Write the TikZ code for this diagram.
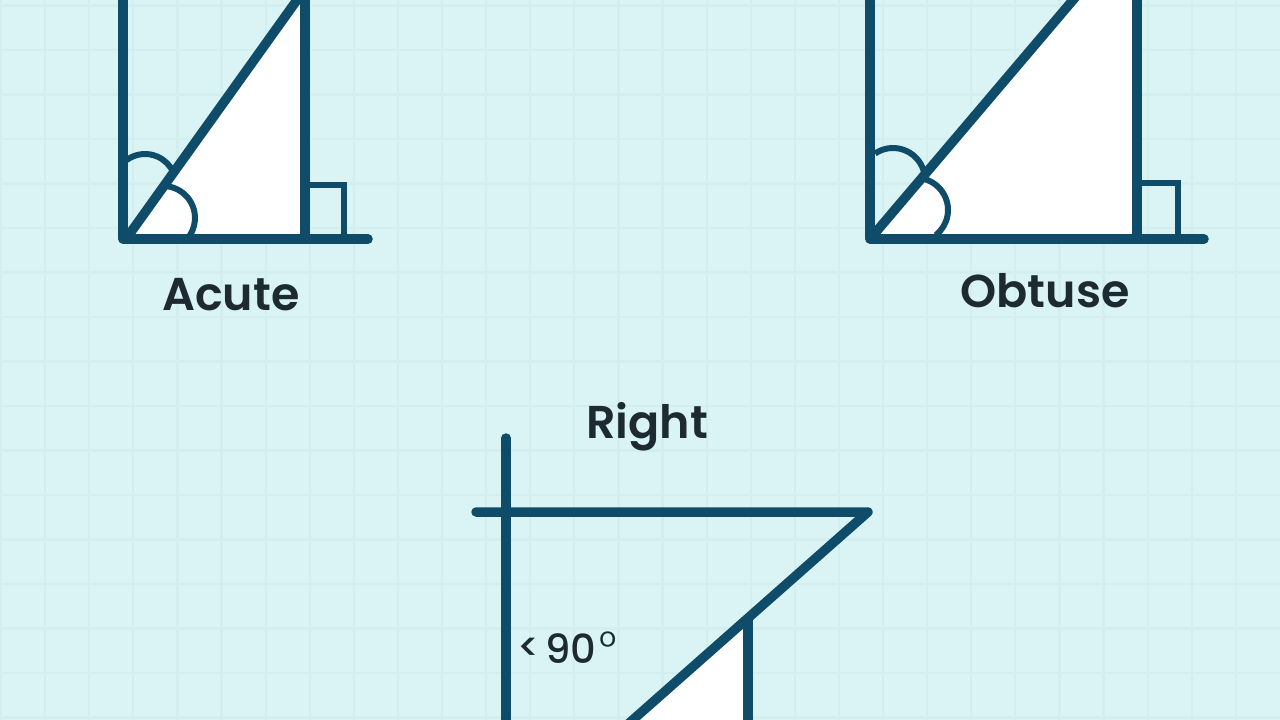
\documentclass[tikz,border=0pt]{standalone}
\usepackage{fontspec}
\setmainfont{Poppins}
\newfontfamily\semib{Poppins}[UprightFont={* SemiBold}]
\newfontfamily\medi{Poppins}[UprightFont={* Medium}]
\newfontfamily\lite{Poppins}[UprightFont={* Light}]
\definecolor{bgc}{HTML}{DAF4F6}
\definecolor{gridc}{HTML}{D2EEEF}
\definecolor{ink}{HTML}{0F4C6A}
\definecolor{txt}{HTML}{1D2A31}
\tikzset{
  heavy/.style={draw=ink, line width=9.5pt},
  thin/.style={draw=ink, line width=6pt},
  label/.style={text=txt, font=\fontsize{46}{46}\semib, inner sep=0pt},
}
\begin{document}
\begin{tikzpicture}[x=1pt,y=-1pt]
\useasboundingbox (0,0) rectangle (1280,720);
\fill[bgc] (0,0) rectangle (1280,720);
\begin{scope}
\clip (0,0) rectangle (1280,720);
% grid
\foreach \i in {0,...,28} {\draw[gridc, line width=2.2pt] ({1+44.1*\i},0) -- ({1+44.1*\i},720);}
\foreach \j in {0,...,16} {\draw[gridc, line width=2.2pt] (0,{5.5+44.5*\j}) -- (1280,{5.5+44.5*\j});}

% ---------- Acute ----------
\fill[white] (126,239) -- (306,-12) -- (305,239) -- cycle;
\draw[thin, line join=miter] (305,239) -- (305,185) -- (344,185) -- (344,239);
\draw[thin] (145,185) ++(-126:31) arc[start angle=-126, end angle=-23, radius=31];
\draw[thin] (163,218) ++(-95:32) arc[start angle=-95, end angle=33, radius=32];
\draw[heavy] (305,-20) -- (305,239);
\draw[heavy] (126,239) -- (312,-21);
\draw[heavy, line join=round, line cap=round] (123,-20) -- (123,239) -- (368,239);

% ---------- Obtuse ----------
\fill[white] (870,239) -- (1137,-76) -- (1137,239) -- cycle;
\draw[thin, line join=miter] (1137,239) -- (1137,183) -- (1178,183) -- (1178,239);
\draw[thin] (893,180) ++(-124:32) arc[start angle=-124, end angle=-10, radius=32];
\draw[thin] (916,210) ++(-80:32) arc[start angle=-80, end angle=52, radius=32];
\draw[heavy] (1137,-20) -- (1137,239);
\draw[heavy] (870,239) -- (1090,-20);
\draw[heavy, line join=round, line cap=round] (870,-20) -- (870,239) -- (1204,239);

% ---------- Right ----------
\fill[white] (748,619) -- (748,740) -- (610,740) -- cycle;
\draw[heavy] (748,619) -- (748,740);
\draw[heavy, line cap=round] (506,438) -- (506,740);
\draw[heavy, line cap=round, line join=round] (476,512) -- (868,512) -- (610,740);
\end{scope}

% labels
\node[label, anchor=base] (acute) at (231,310) {Acute};
\node[label, anchor=base] (obtuse) at (1045,307) {Obtuse};
\node[label, anchor=base] (right) at (647,438) {Right};
\node[text=txt, font=\fontsize{38}{38}\medi, inner sep=0pt] (lt) at (529,649) {<};
\node[text=txt, font=\fontsize{40}{40}\medi, inner sep=0pt, anchor=base west] (deg) at (545,663) {90\kern3pt\raisebox{1pt}{\fontsize{44}{44}\lite°}};
\end{tikzpicture}
\end{document}
